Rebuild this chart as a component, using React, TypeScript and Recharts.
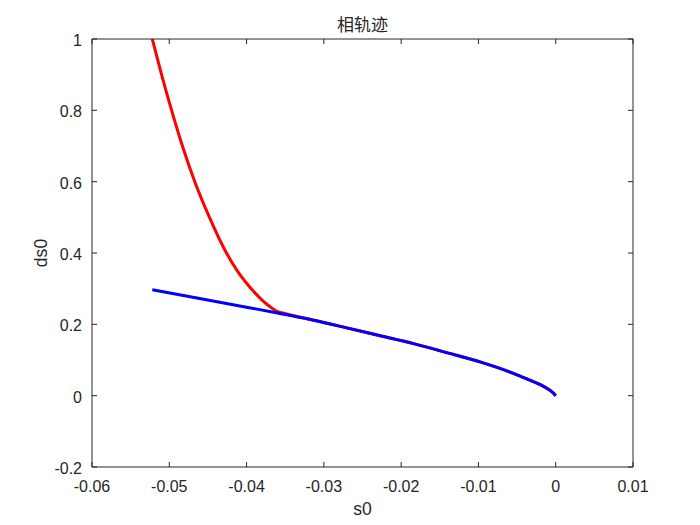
import React from "react";
import { LineChart, Line, XAxis, YAxis, Label } from "recharts";

// phase trajectory data (s0 vs ds0)
const redS = [-0.0522, -0.051, -0.0497, -0.0483, -0.0467, -0.0448, -0.0426, -0.0412, -0.0394, -0.0381, -0.037, -0.0362, -0.0352, -0.032, -0.028, -0.0227, -0.0184, -0.014, -0.0097, -0.0054, -0.0033, -0.002, -0.0011, -0.0004, 0];
const redDs = [1.0, 0.9, 0.8, 0.7, 0.6, 0.5, 0.4, 0.35, 0.3, 0.27, 0.25, 0.238, 0.231, 0.215, 0.195, 0.168, 0.146, 0.12, 0.094, 0.062, 0.043, 0.031, 0.02, 0.009, 0];

const blueS = [-0.0522, -0.048, -0.044, -0.04, -0.036, -0.032, -0.028, -0.0227, -0.0184, -0.014, -0.0097, -0.0054, -0.0033, -0.002, -0.0011, -0.0004, 0];
const blueDs = [0.297, 0.28, 0.264, 0.248, 0.232, 0.215, 0.195, 0.168, 0.146, 0.12, 0.094, 0.062, 0.043, 0.031, 0.02, 0.009, 0];

const xTicks = [-0.06, -0.05, -0.04, -0.03, -0.02, -0.01, 0, 0.01];
const yTicks = [-0.2, 0, 0.2, 0.4, 0.6, 0.8, 1];

const redData = redS.map((s, i) => ({ s, ds: redDs[i] }));
const blueData = blueS.map((s, i) => ({ s, ds: blueDs[i] }));

const AXIS = "#262626";
const FONT = "'Liberation Sans', Arial, Helvetica, sans-serif";
const TICK_LEN = 5;

const BottomTick = ({ x, y, payload }: any) => (
  <g>
    <line x1={x} x2={x} y1={y} y2={y - TICK_LEN} stroke={AXIS} />
    <text x={x} y={y + 25} textAnchor="middle" fill={AXIS} fontSize={16} fontFamily={FONT}>
      {String(payload.value)}
    </text>
  </g>
);

const TopTick = ({ x, y }: any) => (
  <line x1={x} x2={x} y1={y} y2={y + TICK_LEN} stroke={AXIS} />
);

const LeftTick = ({ x, y, payload }: any) => (
  <g>
    <line x1={x} x2={x + TICK_LEN} y1={y} y2={y} stroke={AXIS} />
    <text x={x - 10} y={y + 7} textAnchor="end" fill={AXIS} fontSize={16} fontFamily={FONT}>
      {String(payload.value)}
    </text>
  </g>
);

const RightTick = ({ x, y }: any) => (
  <line x1={x} x2={x - TICK_LEN} y1={y} y2={y} stroke={AXIS} />
);

export default function App() {
  return (
    <div style={{ position: "absolute", left: 0, top: 0, width: 700, height: 525, background: "#fff" }}>
      <LineChart
        width={700}
        height={525}
        margin={{ top: 38, right: 66, bottom: 28, left: 32 }}
      >
        <XAxis
          xAxisId="bottom"
          dataKey="s"
          type="number"
          domain={[-0.06, 0.01]}
          ticks={xTicks}
          allowDataOverflow
          height={30}
          tickSize={0}
          tickMargin={0}
          tickLine={false}
          axisLine={{ stroke: AXIS }}
          tick={<BottomTick />}
          interval={0}
        >
          <Label
            content={({ viewBox }: any) => (
              <text
                x={viewBox.x + viewBox.width / 2}
                y={515}
                textAnchor="middle"
                fill={AXIS}
                fontSize={17.6}
                fontFamily={FONT}
              >
                s0
              </text>
            )}
          />
        </XAxis>
        <XAxis
          xAxisId="top"
          orientation="top"
          dataKey="s"
          type="number"
          domain={[-0.06, 0.01]}
          ticks={xTicks}
          allowDataOverflow
          height={1}
          tickSize={0}
          tickMargin={0}
          tickLine={false}
          axisLine={{ stroke: AXIS }}
          tick={<TopTick />}
          interval={0}
        >
          <Label
            content={({ viewBox }: any) => (
              <text
                x={viewBox.x + viewBox.width / 2}
                y={31}
                textAnchor="middle"
                fill={AXIS}
                fontSize={17}
                fontFamily="'Noto Sans CJK SC', sans-serif"
              >
                相轨迹
              </text>
            )}
          />
        </XAxis>
        <YAxis
          yAxisId="left"
          type="number"
          domain={[-0.2, 1]}
          ticks={yTicks}
          allowDataOverflow
          width={60}
          tickSize={0}
          tickMargin={0}
          tickLine={false}
          axisLine={{ stroke: AXIS }}
          tick={<LeftTick />}
          interval={0}
        >
          <Label
            content={({ viewBox }: any) => {
              const cy = viewBox.y + viewBox.height / 2;
              return (
                <text
                  x={47}
                  y={cy}
                  transform={`rotate(-90, 47, ${cy})`}
                  textAnchor="middle"
                  fill={AXIS}
                  fontSize={17.6}
                  fontFamily={FONT}
                >
                  ds0
                </text>
              );
            }}
          />
        </YAxis>
        <YAxis
          yAxisId="right"
          orientation="right"
          type="number"
          domain={[-0.2, 1]}
          ticks={yTicks}
          allowDataOverflow
          width={1}
          tickSize={0}
          tickMargin={0}
          tickLine={false}
          axisLine={{ stroke: AXIS }}
          tick={<RightTick />}
          interval={0}
        />
        {/* invisible series so the top/right box axes are active */}
        <Line
          xAxisId="top"
          yAxisId="right"
          data={blueData}
          dataKey="ds"
          stroke="none"
          dot={false}
          activeDot={false}
          legendType="none"
          isAnimationActive={false}
        />
        <Line
          xAxisId="bottom"
          yAxisId="left"
          data={redData}
          dataKey="ds"
          type="monotone"
          stroke="#ff0000"
          strokeWidth={3}
          dot={false}
          activeDot={false}
          isAnimationActive={false}
        />
        <Line
          xAxisId="bottom"
          yAxisId="left"
          data={blueData}
          dataKey="ds"
          type="monotone"
          stroke="#0000ff"
          strokeWidth={3}
          dot={false}
          activeDot={false}
          isAnimationActive={false}
        />
      </LineChart>
    </div>
  );
}
